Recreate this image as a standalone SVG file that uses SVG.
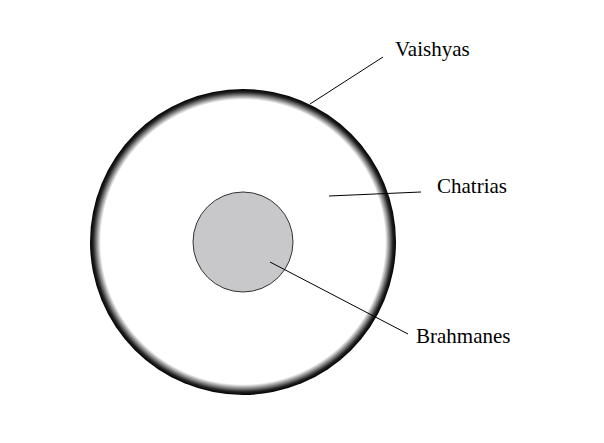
<svg xmlns="http://www.w3.org/2000/svg" width="604" height="443" viewBox="0 0 604 443">
<style>
text{font-family:"Liberation Serif",serif;font-size:21px;fill:#000}
.c{stroke:#000;stroke-width:1;fill:none}
</style>
<defs>
<radialGradient id="g" cx="0.5" cy="0.5" r="0.5">
<stop offset="0" stop-color="#fff"/>
<stop offset="0.93" stop-color="#fff"/>
<stop offset="0.98" stop-color="#222"/>
<stop offset="1" stop-color="#000"/>
</radialGradient>
</defs>
<rect width="604" height="443" fill="#fff"/>
<g id="vaishyas"><circle cx="243" cy="242" r="153" fill="url(#g)"/><text x="395" y="56">Vaishyas</text></g>
<g id="chatrias"><text x="437" y="193">Chatrias</text></g>
<g id="brahmanes"><circle cx="243" cy="242" r="50" fill="#c8c7c9" stroke="#333" stroke-width="1"/><text x="416" y="343">Brahmanes</text></g>
<g id="connectors">
<line class="c" x1="310" y1="104" x2="383" y2="57"/>
<line class="c" x1="329" y1="196" x2="421" y2="192"/>
<line class="c" x1="270" y1="262" x2="408" y2="334"/>
</g>
</svg>
